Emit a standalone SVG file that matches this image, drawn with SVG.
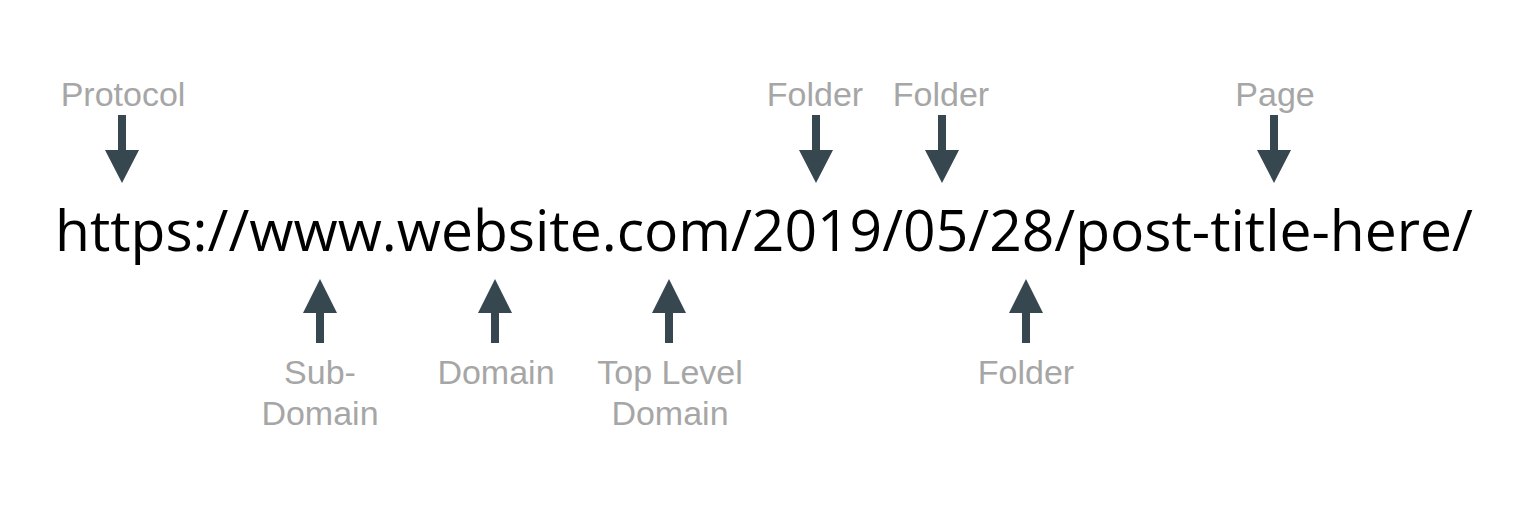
<svg xmlns="http://www.w3.org/2000/svg" width="1536" height="506" viewBox="0 0 1536 506">
<style>
.lbl{font-family:"Liberation Sans",Arial,sans-serif;font-size:34px;fill:#a6a6a6;text-anchor:middle}
.url{font-family:"Open Sans","Noto Sans",sans-serif;font-size:57px;fill:#000}
.arr{fill:#37474f}
</style>
<defs>
<path id="down" d="M-4,0 H4 V35 H17 L0,68 L-17,35 H-4 Z"/>
<path id="up" d="M0,0 L17,34 H4 V64 H-4 V34 H-17 Z"/>
</defs>
<rect width="1536" height="506" fill="#fff"/>
<g id="url"><text class="url" x="55" y="251" textLength="1418" lengthAdjust="spacingAndGlyphs">https://www.website.com/2019/05/28/post-title-here/</text></g>
<g id="protocol"><text class="lbl" x="123" y="106">Protocol</text></g>
<g id="folder1"><text class="lbl" x="815" y="106">Folder</text></g>
<g id="folder2"><text class="lbl" x="941" y="106">Folder</text></g>
<g id="page"><text class="lbl" x="1275" y="106">Page</text></g>
<g id="subdomain"><text class="lbl" x="320" y="384">Sub-</text><text class="lbl" x="320" y="425">Domain</text></g>
<g id="domain"><text class="lbl" x="496" y="384">Domain</text></g>
<g id="tld"><text class="lbl" x="670" y="384">Top Level</text><text class="lbl" x="670" y="425">Domain</text></g>
<g id="folder3"><text class="lbl" x="1026" y="384">Folder</text></g>
<g id="connectors" class="arr">
<use href="#down" x="122" y="115"/>
<use href="#down" x="816" y="115"/>
<use href="#down" x="942" y="115"/>
<use href="#down" x="1274" y="115"/>
<use href="#up" x="320" y="279"/>
<use href="#up" x="495" y="279"/>
<use href="#up" x="669" y="279"/>
<use href="#up" x="1026" y="279"/>
</g>
</svg>
